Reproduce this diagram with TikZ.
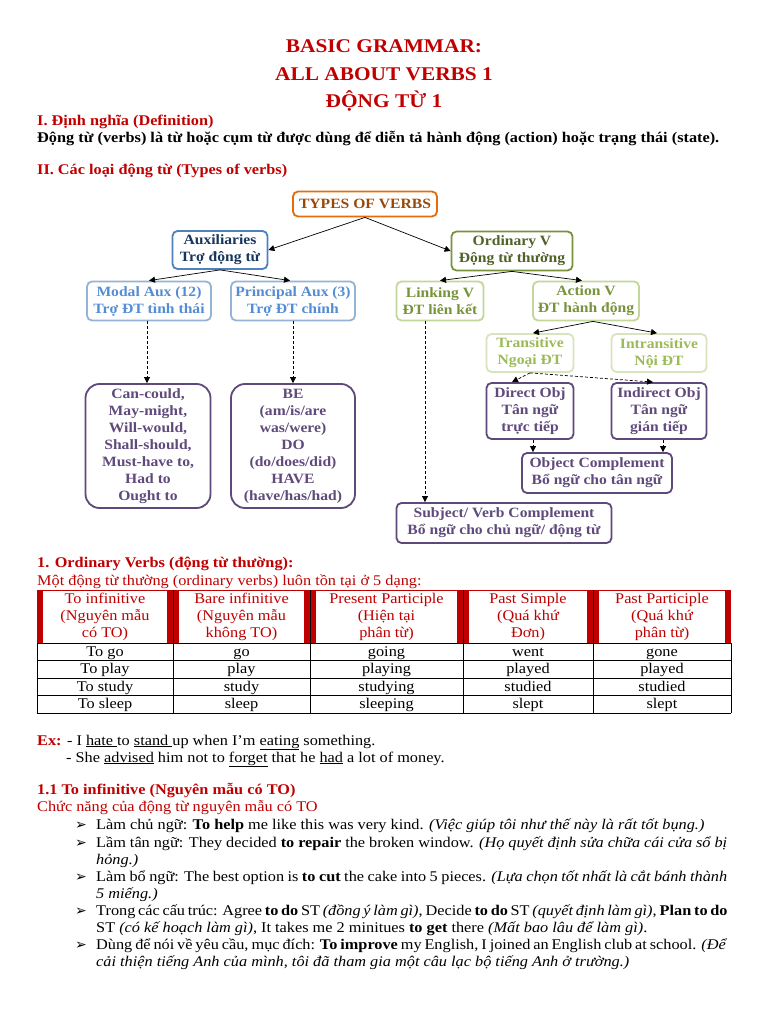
\documentclass[tikz,border=0pt]{standalone}
\usepackage{fontspec}
\setmainfont{Liberation Serif}[FakeStretch=1.1]
\newfontfamily\symf{DejaVu Sans}
\usetikzlibrary{arrows.meta}
\definecolor{tred}{HTML}{C00000}
\definecolor{orgB}{HTML}{E46C0A}
\definecolor{orgT}{HTML}{984807}
\definecolor{auxB}{HTML}{4F81BD}
\definecolor{auxT}{HTML}{17365D}
\definecolor{modB}{HTML}{95B3D7}
\definecolor{modT}{HTML}{548DD4}
\definecolor{ordB}{HTML}{77933C}
\definecolor{ordT}{HTML}{4F6228}
\definecolor{linB}{HTML}{C3D69B}
\definecolor{linT}{HTML}{77933C}
\definecolor{trB}{HTML}{D7E4BD}
\definecolor{trT}{HTML}{9BBB59}
\definecolor{purB}{HTML}{5F497A}
\definecolor{purT}{HTML}{604A7B}
\tikzset{
  bx/.style={draw, rounded corners=5pt, line width=1.8pt, align=center, inner sep=1pt,
    font=\fontsize{14.2}{17}\selectfont\bfseries},
  arr/.style={-{Triangle[length=6pt,width=6pt]}, line width=0.7pt, black},
  darr/.style={arr, dash pattern=on 3pt off 2pt},
  txt/.style={anchor=base west, inner sep=0pt, font=\fontsize{14.8}{17}\selectfont},
  ttl/.style={anchor=base, inner sep=0pt, text=tred, font=\fontsize{19.4}{22}\selectfont\bfseries},
  hdr/.style={align=center, inner sep=0pt, text=tred, font=\fontsize{14.8}{17}\selectfont},
  cell/.style={anchor=base, inner sep=0pt, font=\fontsize{14.8}{17}\selectfont},
}
\newcommand{\bul}{{\symf\fontsize{14}{14}\selectfont ➢}}
\newcommand{\myul}[1]{\underline{#1}}
\begin{document}
\begin{tikzpicture}[x=1pt,y=-1pt]
\useasboundingbox[fill=white] (0,0) rectangle (768,1024);
% title
\node[ttl] (t1) at (384,53) {BASIC GRAMMAR:};
\node[ttl] (t2) at (384,81) {ALL ABOUT VERBS 1};
\node[ttl] (t3) at (384,108) {ĐỘNG TỪ 1};
% definition
\node[txt, text=tred, font=\fontsize{14.8}{17}\selectfont\bfseries] (d1) at (37,126) {I. Định nghĩa (Definition)};
\node[txt, font=\fontsize{14.8}{17}\selectfont\bfseries] (d2) at (37,143) {Động từ (verbs) là từ hoặc cụm từ được dùng để diễn tả hành động (action) hoặc trạng thái (state).};
\node[txt, text=tred, font=\fontsize{14.8}{17}\selectfont\bfseries] (d3) at (37,175) {II. Các loại động từ (Types of verbs)};
% diagram
\node[bx, draw=orgB, text=orgT, minimum width=144pt, minimum height=25pt] (types) at (365,204) {TYPES OF VERBS};
\node[bx, draw=auxB, text=auxT, minimum width=95pt, minimum height=38pt] (aux) at (220,250) {Auxiliaries\\Trợ động từ};
\node[bx, draw=modB, text=modT, minimum width=124pt, minimum height=39pt] (modal) at (149,301) {Modal Aux (12)\\Trợ ĐT tình thái};
\node[bx, draw=modB, text=modT, minimum width=124pt, minimum height=39pt] (princ) at (293,301) {Principal Aux (3)\\Trợ ĐT chính};
\node[bx, draw=ordB, text=ordT, minimum width=121pt, minimum height=39pt] (ord) at (512,251) {Ordinary V\\Động từ thường};
\node[bx, draw=linB, text=linT, minimum width=87pt, minimum height=39pt] (link) at (440,301) {Linking V\\ĐT liên kết};
\node[bx, draw=linB, text=linT, minimum width=106pt, minimum height=39pt] (act) at (586,301) {Action V\\ĐT hành động};
\node[bx, draw=trB, text=trT, minimum width=87pt, minimum height=38pt] (trans) at (530,353) {Transitive\\Ngoại ĐT};
\node[bx, draw=trB, text=trT, minimum width=95pt, minimum height=38pt] (intr) at (659,353) {Intransitive\\Nội ĐT};
\node[bx, draw=purB, text=purT, minimum width=87pt, minimum height=56pt] (dobj) at (530,411) {Direct Obj\\Tân ngữ\\trực tiếp};
\node[bx, draw=purB, text=purT, minimum width=95pt, minimum height=56pt] (iobj) at (659,411) {Indirect Obj\\Tân ngữ\\gián tiếp};
\node[bx, draw=purB, text=purT, minimum width=150pt, minimum height=40pt] (objc) at (597,473) {Object Complement\\Bổ ngữ cho tân ngữ};
\node[bx, draw=purB, text=purT, minimum width=215pt, minimum height=40pt] (svc) at (504,523) {Subject/ Verb Complement\\Bổ ngữ cho chủ ngữ/ động từ};
\node[bx, draw=purB, text=purT, rounded corners=14pt, minimum width=125pt, minimum height=124pt] (can) at (148,446) {Can-could,\\May-might,\\Will-would,\\Shall-should,\\Must-have to,\\Had to\\Ought to};
\node[bx, draw=purB, text=purT, rounded corners=14pt, minimum width=124pt, minimum height=124pt] (be) at (293,446) {BE\\(am/is/are\\was/were)\\DO\\(do/does/did)\\HAVE\\(have/has/had)};
% connectors
\draw[arr] (types.south) -- (aux.east);
\draw[arr] (types.south) -- (ord.west);
\draw[arr] (aux.south) -- (modal.north);
\draw[arr] (aux.south) -- ([xshift=-3pt]princ.north);
\draw[arr] (ord.south) -- (link.north);
\draw[arr] (ord.south) -- ([xshift=-4pt]act.north);
\draw[arr] ([xshift=7pt]act.south) -- ([xshift=3pt]trans.north);
\draw[arr] ([xshift=7pt]act.south) -- ([xshift=-2pt]intr.north);
\draw[darr] ([xshift=-2pt]modal.south) -- ([xshift=-2pt]modal.south |- can.north);
\draw[darr] (princ.south) -- (princ.south |- be.north);
\draw[darr] ([xshift=-15pt]link.south) -- ([xshift=-15pt]link.south |- svc.north);
\draw[darr] (trans.south) -- ([xshift=-18pt]dobj.north);
\draw[darr] (trans.south) -- ([xshift=-6pt]iobj.north);
\draw[darr] ([xshift=3pt]dobj.south) -- ([xshift=3pt]dobj.south |- objc.north);
\draw[darr] ([xshift=4pt]iobj.south) -- ([xshift=4pt]iobj.south |- objc.north);
% section 1
\node[txt, text=tred, font=\fontsize{14.8}{17}\selectfont\bfseries] (s1) at (37,567) {1. Ordinary Verbs (động từ thường):};
\node[txt, text=tred] (s2) at (37,585) {Một động từ thường (ordinary verbs) luôn tồn tại ở 5 dạng:};
% table
\foreach \a/\b in {37/173,173/310,310/463,463/593,593/731}{
  \fill[tred] (\a,590) rectangle (\a+6,643);
  \fill[tred] (\b-6,590) rectangle (\b,643);
}
\draw[tred, line width=0.8pt] (37,590.4) -- (731,590.4);
\draw[black, line width=0.8pt] (37,643) -- (731,643) (37,660.5) -- (731,660.5) (37,678) -- (731,678) (37,695.5) -- (731,695.5) (37,713) -- (731,713);
\foreach \x in {37,173,310,463,593,731}{\draw[black, line width=0.8pt] (\x,643) -- (\x,713);}
\foreach \x in {173,310,463,593}{\draw[black, line width=0.6pt] (\x,590) -- (\x,643);}
\node[hdr] (h1) at (105,617) {To infinitive\\(Nguyên mẫu\\có TO)};
\node[hdr] (h2) at (241.5,617) {Bare infinitive\\(Nguyên mẫu\\không TO)};
\node[hdr] (h3) at (386.5,617) {Present Participle\\(Hiện tại\\phân từ)};
\node[hdr] (h4) at (528,617) {Past Simple\\(Quá khứ\\Đơn)};
\node[hdr] (h5) at (662,617) {Past Participle\\(Quá khứ\\phân từ)};
\foreach \y/\a/\b/\c/\d/\e in {656/To go/go/going/went/gone, 673.5/To play/play/playing/played/played, 691/To study/study/studying/studied/studied, 708.5/To sleep/sleep/sleeping/slept/slept}{
  \node[cell] at (105,\y) {\a};
  \node[cell] at (241.5,\y) {\b};
  \node[cell] at (386.5,\y) {\c};
  \node[cell] at (528,\y) {\d};
  \node[cell] at (662,\y) {\e};
}
% examples
\node[txt] (ex1) at (37,745) {\textcolor{tred}{\textbf{Ex:}} - I \myul{hate }to \myul{stand }up when I’m \myul{eating} something.};
\node[txt] (ex2) at (66,762) {- She \myul{advised} him not to \myul{forget} that he \myul{had} a lot of money.};
% 1.1
\node[txt, text=tred, font=\fontsize{14.8}{17}\selectfont\bfseries] (s3) at (37,794) {1.1 To infinitive (Nguyên mẫu có TO)};
\node[txt, text=tred] (s4) at (37,811) {Chức năng của động từ nguyên mẫu có TO};
\foreach \y in {829,847,881,915,949}{\node[anchor=base west, inner sep=0pt] at (75,\y) {\bul};}
\node[txt] (b1) at (96,829) {Làm chủ ngữ: \textbf{To help} me like this was very kind. \textit{(Việc giúp tôi như thế này là rất tốt bụng.)}};
\node[txt] (b2) at (96,847) {\makebox[631pt][s]{Lầm tân ngữ: They decided \textbf{to repair} the broken window. \textit{(Họ quyết định sửa chữa cái cửa sổ bị}}};
\node[txt] (b2b) at (96,864) {\textit{hỏng.)}};
\node[txt] (b3) at (96,881) {\makebox[631pt][s]{Làm bổ ngữ: The best option is \textbf{to cut} the cake into 5 pieces. \textit{(Lựa chọn tốt nhất là cắt bánh thành}}};
\node[txt] (b3b) at (96,898) {\textit{5 miếng.)}};
\node[txt] (b4) at (96,915) {\makebox[631pt][s]{Trong các cấu trúc: Agree \textbf{to do} ST \textit{(đồng ý làm gì)}, Decide \textbf{to do} ST \textit{(quyết định làm gì)}, \textbf{Plan to do}}};
\node[txt] (b4b) at (96,932) {ST \textit{(có kế hoạch làm gì)}, It takes me 2 minitues \textbf{to get} there \textit{(Mất bao lâu để làm gì)}.};
\node[txt] (b5) at (96,949) {\makebox[631pt][s]{Dùng để nói về yêu cầu, mục đích: \textbf{To improve} my English, I joined an English club at school. \textit{(Để}}};
\node[txt] (b5b) at (96,966) {\textit{cải thiện tiếng Anh của mình, tôi đã tham gia một câu lạc bộ tiếng Anh ở trường.)}};
\end{tikzpicture}
\end{document}
